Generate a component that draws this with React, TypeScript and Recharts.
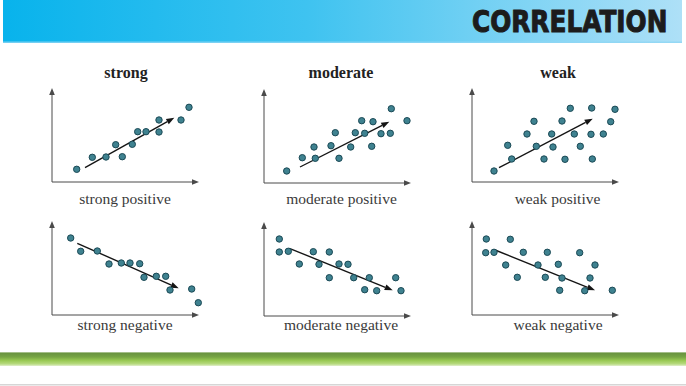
import React from 'react';
import { ScatterChart, Scatter, XAxis, YAxis, ReferenceLine } from 'recharts';

// ---- data (x = distance right of the y axis, y = height above the x axis) ----
const strongPosX = [24.7, 40.3, 54, 63.7, 70.3, 80.3, 85.7, 94, 107, 107, 129, 137];
const strongPosY = [12.7, 24.7, 25, 37.3, 25.3, 37.7, 50.3, 50.3, 62, 50, 62, 74.7];
const strongPosTrend = [[33, 14.3], [122.3, 64.3]];

const moderatePosX = [22.7, 38.3, 50, 51.3, 67, 71.3, 75, 86.7, 91.3, 97.7, 100.7, 107.7, 109, 117, 126.3, 127.3, 143];
const moderatePosY = [12, 25.3, 36, 24.7, 37.3, 50.3, 24.7, 36, 50.3, 62.3, 49.7, 36.7, 61.3, 49.3, 49.7, 74.3, 62.3];
const moderatePosTrend = [[36, 16], [125.3, 61.3]];

const weakPosX = [22, 35.7, 39.7, 55, 62, 64.3, 72, 79.7, 81, 90, 93, 98.3, 102.3, 108.3, 119, 119.7, 120.3, 131.3, 138.7, 143];
const weakPosY = [11, 36.7, 23, 48, 60.7, 35.7, 23, 48, 35, 61, 22.7, 73.7, 48, 35.7, 47.7, 74, 23, 48, 60.3, 72.7];
const weakPosTrend = [[27, 14.3], [120.7, 63.3]];

const strongNegX = [18.7, 28.7, 45.3, 57, 69.3, 78, 87.7, 92, 104.3, 113.7, 118, 139.7, 146.3];
const strongNegY = [77, 63.7, 64, 51, 52, 52, 51.3, 37.7, 38.7, 38.7, 25, 26, 12.3];
const strongNegTrend = [[25.3, 71.7], [126.7, 26.7]];

const moderateNegX = [15.3, 15.3, 24.3, 35.3, 49.3, 55, 65.3, 65.3, 75, 84, 89.7, 100.7, 105.3, 112.7, 131.7, 137];
const moderateNegY = [77, 64, 64.7, 52, 64.3, 51.7, 64, 38.3, 52, 51.7, 38.3, 26.3, 38.3, 25.3, 38.3, 25.3];
const moderateNegTrend = [[25.3, 67.7], [128.7, 25.7]];

const weakNegX = [14.3, 13.7, 22, 38.3, 33.7, 51.3, 45.3, 66, 73.3, 75.3, 86.3, 90, 87.7, 107.7, 112.7, 118, 123, 140.3];
const weakNegY = [76, 62.3, 62.7, 75.7, 50, 62.7, 37.7, 50, 37.7, 62.7, 50.7, 37, 24.7, 62.3, 24.3, 37, 50, 24.7];
const weakNegTrend = [[23, 65], [123, 24.7]];

const columnTitles = ['strong', 'moderate', 'weak'];
const panelLabels = ['strong positive', 'moderate positive', 'weak positive', 'strong negative', 'moderate negative', 'weak negative'];

const AXIS_X_LEN = 147;
const AXIS_Y_LEN = 94;

const makeArrow = (color: string, width: number, headLen: number, headHalf: number) => (p: any) => {
  const { x1, y1, x2, y2 } = p;
  const dx = x2 - x1;
  const dy = y2 - y1;
  const len = Math.hypot(dx, dy) || 1;
  const ux = dx / len;
  const uy = dy / len;
  const bx = x2 - ux * headLen;
  const by = y2 - uy * headLen;
  const px = -uy;
  const py = ux;
  return (
    <g>
      <line x1={x1} y1={y1} x2={bx} y2={by} stroke={color} strokeWidth={width} />
      <polygon
        points={`${x2},${y2} ${bx + px * headHalf},${by + py * headHalf} ${bx - px * headHalf},${by - py * headHalf}`}
        fill={color}
      />
    </g>
  );
};

const axisArrow = makeArrow('#4a4a4a', 1, 7, 2.8);
const trendArrow = makeArrow('#151515', 1.4, 8, 3);

const Dot = (p: any) => {
  const { cx, cy } = p;
  if (cx == null || cy == null) return <g />;
  return <circle cx={cx} cy={cy} r={3.2} fill="#3f8290" stroke="#1c4a56" strokeWidth={1} />;
};

function Panel({ ox, oy, xs, ys, trend }: { ox: number; oy: number; xs: number[]; ys: number[]; trend: number[][] }) {
  const data = xs.map((x, i) => ({ x, y: ys[i] }));
  return (
    <div style={{ position: 'absolute', left: ox - 5, top: oy - 101 }}>
      <ScatterChart width={160} height={106} margin={{ top: 0, right: 0, bottom: 0, left: 0 }}>
        <XAxis type="number" dataKey="x" domain={[-5, 155]} hide />
        <YAxis type="number" dataKey="y" domain={[-5, 101]} hide />
        <ReferenceLine segment={[{ x: 0, y: 0 }, { x: AXIS_X_LEN, y: 0 }]} shape={axisArrow} />
        <ReferenceLine segment={[{ x: 0, y: 0 }, { x: 0, y: AXIS_Y_LEN }]} shape={axisArrow} />
        <ReferenceLine
          segment={[{ x: trend[0][0], y: trend[0][1] }, { x: trend[1][0], y: trend[1][1] }]}
          shape={trendArrow}
        />
        <Scatter data={data} isAnimationActive={false} shape={Dot} />
      </ScatterChart>
    </div>
  );
}

export default function App() {
  const titleX = [126, 341, 558];
  const labelX = [125, 341.5, 557.5, 125, 341, 558];
  const labelY = [204, 204, 204, 330, 330, 330];
  return (
    <div
      style={{
        position: 'absolute',
        left: 0,
        top: 0,
        width: 686,
        height: 386,
        background: '#ffffff',
        overflow: 'hidden',
      }}
    >
      <svg width={686} height={386} style={{ position: 'absolute', left: 0, top: 0 }}>
        <defs>
          <linearGradient id="banner" x1="0" y1="0" x2="1" y2="0">
            <stop offset="0" stopColor="#08b3ec" />
            <stop offset="0.45" stopColor="#3fc3f0" />
            <stop offset="1" stopColor="#aee0f7" />
          </linearGradient>
          <linearGradient id="green" x1="0" y1="0" x2="0" y2="1">
            <stop offset="0" stopColor="#c4d6b0" />
            <stop offset="0.1" stopColor="#6a9440" />
            <stop offset="0.35" stopColor="#76a443" />
            <stop offset="0.6" stopColor="#98c852" />
            <stop offset="0.85" stopColor="#b6da7e" />
            <stop offset="1" stopColor="#e2efcc" />
          </linearGradient>
        </defs>
        <rect x={3} y={0} width={679} height={43} fill="url(#banner)" />
        <rect x={3} y={41.5} width={679} height={1.5} fill="#8fd6f4" opacity={0.8} />
        <g transform="translate(472,32) scale(0.8,1)">
          <text
            x={0}
            y={0}
            fontFamily="'DejaVu Sans', sans-serif"
            fontWeight="bold"
            fontSize={31}
            fill="#1c1c1c"
            stroke="#1c1c1c"
            strokeWidth={1.1}
          >
            CORRELATION
          </text>
        </g>
        {columnTitles.map((t, i) => (
          <text
            key={t}
            x={titleX[i]}
            y={78}
            textAnchor="middle"
            fontFamily="'Liberation Serif', serif"
            fontWeight="bold"
            fontSize={16}
            fill="#222"
          >
            {t}
          </text>
        ))}
        {panelLabels.map((t, i) => (
          <text
            key={t}
            x={labelX[i]}
            y={labelY[i]}
            textAnchor="middle"
            fontFamily="'Liberation Serif', serif"
            fontSize={15.5}
            fill="#3a3a3a"
          >
            {t}
          </text>
        ))}
        <rect x={0} y={352} width={686} height={14} fill="url(#green)" />
        <rect x={0} y={384} width={686} height={1.5} fill="#d6d6d6" />
      </svg>
      <Panel ox={52} oy={182} xs={strongPosX} ys={strongPosY} trend={strongPosTrend} />
      <Panel ox={264} oy={183} xs={moderatePosX} ys={moderatePosY} trend={moderatePosTrend} />
      <Panel ox={472} oy={182} xs={weakPosX} ys={weakPosY} trend={weakPosTrend} />
      <Panel ox={52} oy={315} xs={strongNegX} ys={strongNegY} trend={strongNegTrend} />
      <Panel ox={264} oy={316} xs={moderateNegX} ys={moderateNegY} trend={moderateNegTrend} />
      <Panel ox={472} oy={315} xs={weakNegX} ys={weakNegY} trend={weakNegTrend} />
    </div>
  );
}
